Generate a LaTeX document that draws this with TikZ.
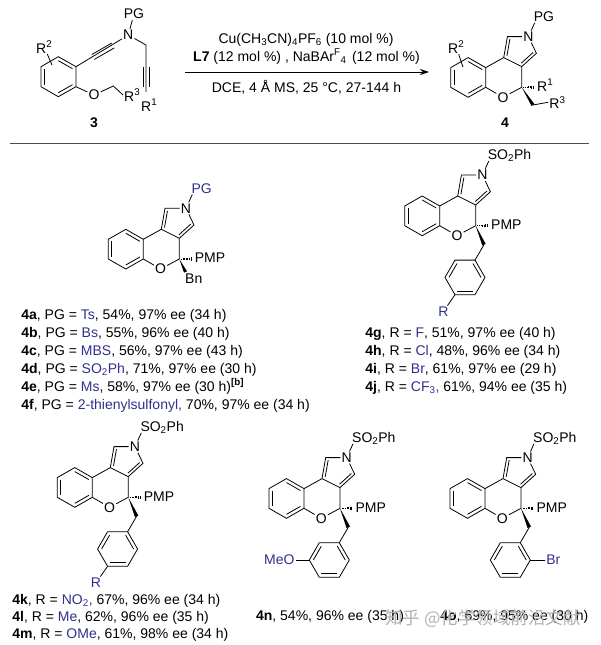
\documentclass[tikz,border=0pt]{standalone}
\usepackage{fontspec}
\usepackage{tikz}
\usetikzlibrary{calc,arrows.meta}
\setmainfont{Liberation Sans}
\newfontfamily\cjkfont{Noto Sans CJK SC}
\definecolor{pgblue}{RGB}{48,48,140}
\tikzset{
  atom/.style={anchor=base west,inner sep=.8pt},
  het/.style={anchor=center,inner sep=.8pt},
  listtext/.style={anchor=base west,inner sep=0pt},
  bold/.style={font=\fontsize{14}{16}\selectfont\bfseries}
}
\newcommand{\blue}[1]{\textcolor{pgblue}{#1}}
\newcommand{\dbl}[3]{\draw ($(#1)!.8!(#2)$) -- ($(#1)!.8!(#3)$);}
\newcommand{\hashbond}{\foreach \t in {2,3.6,...,13} {\draw[line width=.55pt] (\t,{-.14*\t}) -- (\t,{.14*\t});}}
% fused ring system, drawn around the quaternary carbon at (0,0)
\newcommand{\tricycle}[1]{
\coordinate (cq) at (0,0);
\coordinate (c3a) at (0,-20.7);
\coordinate (c9b) at (-18,-29.7);
\coordinate (c1) at (-14.3,-50.7);
\coordinate (c3) at (14.7,-34);
\coordinate (pgend) at (13,-64.5);
\coordinate (pc) at (-2,-38);
\node[het] (n) at (6.7,-50.7) {N};
\node[het] (o) at (-18.7,10) {O};
\node[atom] (pg) at (11,-66) {#1};
\coordinate (b1) at (-36,-19.7);
\coordinate (b2) at (-53.5,-29.7);
\coordinate (b3) at (-71,-19.7);
\coordinate (b4) at (-71,0);
\coordinate (b5) at (-53.5,10);
\coordinate (b6) at (-36,0);
\coordinate (bc) at (-53.5,-9.85);
\draw (b1) -- (b2) -- (b3) -- (b4) -- (b5) -- (b6) -- cycle;
\dbl{bc}{b1}{b2}
\dbl{bc}{b3}{b4}
\dbl{bc}{b5}{b6}
\draw (b1) -- (c9b) -- (c3a) -- (cq);
\draw (c9b) -- (c1) -- (n) -- (c3) -- (c3a);
\dbl{pc}{c9b}{c1}
\dbl{pc}{c3a}{c3}
\draw (n) -- (pgend);
\draw (b6) -- (o) -- (cq);
\hashbond
}
% benzyl arm, hanging from the wedge
\newcommand{\benzyl}{
\coordinate (ch2) at (8.3,19);
\coordinate (r1) at (-0.7,34.4);
\coordinate (r2) at (9.3,51.7);
\coordinate (r3) at (-0.7,69);
\coordinate (r4) at (-20.7,69);
\coordinate (r5) at (-30.7,51.7);
\coordinate (r6) at (-20.7,34.4);
\coordinate (rc) at (-10.7,51.7);
\fill (cq) -- (6.6,19.8) -- (10,18.2) -- cycle;
\draw (ch2) -- (r1);
\draw (r1) -- (r2) -- (r3) -- (r4) -- (r5) -- (r6) -- cycle;
\dbl{rc}{r1}{r2}
\dbl{rc}{r3}{r4}
\dbl{rc}{r5}{r6}
}
\begin{document}
\begin{tikzpicture}[x=1pt,y=-1pt,line width=.8pt,every node/.style={font=\fontsize{14}{16}\selectfont}]
\useasboundingbox (0,0) rectangle (600,645);

% substrate 3
\coordinate (s1) at (58.3,56.7);
\coordinate (s2) at (76,66.7);
\coordinate (s3) at (76,86.7);
\coordinate (s4) at (58.3,96.7);
\coordinate (s5) at (41,86.7);
\coordinate (s6) at (41,66.7);
\coordinate (sc) at (58.5,76.7);
\coordinate (ta) at (93,57);
\coordinate (tb) at (113,45.5);
\coordinate (sr) at (52,65);
\coordinate (s7) at (113.3,86);
\coordinate (s8) at (146,45);
\coordinate (s9) at (146,92);
\node[het] (sn) at (128.3,35) {N};
\node[het] (so) at (94,95) {O};
\node[het] (spg) at (134,14) {PG};
\node[atom] (sr2) at (35,53) {R\textsuperscript{2}};
\node[atom] (sr3) at (123,101) {R\textsuperscript{3}};
\node[atom] (sr1) at (140,111) {R\textsuperscript{1}};
\node[bold] (lab3) at (94,122.7) {3};
\draw (s1) -- (s2) -- (s3) -- (s4) -- (s5) -- (s6) -- cycle;
\dbl{sc}{s1}{s2}
\dbl{sc}{s4}{s3}
\dbl{sc}{s5}{s6}
\draw (sr) -- (sr2);
\draw (s2) -- (sn);
\draw ($(ta)+(-1.3,-2.4)$) -- ($(tb)+(-1.3,-2.4)$);
\draw ($(ta)+(1.3,2.4)$) -- ($(tb)+(1.3,2.4)$);
\draw (spg) -- (sn);
\draw (sn) -- (s8) -- (s9);
\draw (143,66.7) -- (143,87);
\draw (149,66.7) -- (149,87);
\draw (s3) -- (so) -- (s7) -- (sr3.west);

% conditions and arrow
\coordinate (arrowa) at (185,72);
\coordinate (arrowb) at (429,72);
\draw[-{Stealth[length=9pt,width=6pt]},line width=1pt] (arrowa) -- (arrowb);
\node[anchor=base] (cond1) at (306,43) {Cu(CH\textsubscript{3}CN)\textsubscript{4}PF\textsubscript{6} (10 mol \%)};
\node[anchor=base] (cond2) at (306.5,61) {\textbf{L7} (12 mol \%) , NaBAr\textsuperscript{F}\textsubscript{4}\kern.4em(12 mol \%)};
\node[anchor=base] (cond3) at (306.5,92) {DCE, 4 Å MS, 25 °C, 27-144 h};

% product 4
\begin{scope}[shift={(521.7,87.3)}]
\tricycle{PG}
\node[atom] (p1) at (14.3,3.7) {R\textsuperscript{1}};
\node[atom] (p3) at (26.5,21) {R\textsuperscript{3}};
\coordinate (pch2) at (11.3,17.7);
\fill (cq) -- (9.8,18.6) -- (12.8,16.8) -- cycle;
\draw (pch2) -- (p3.west);
\end{scope}
\coordinate (pr) at (463,67);
\node[atom] (p2) at (447,53) {R\textsuperscript{2}};
\draw (pr) -- (p2);
\node[bold] (lab4) at (505,122.7) {4};

\coordinate (sepa) at (10,143.3);
\coordinate (sepb) at (589,143.3);
\draw[line width=1.2pt,black!70] (sepa) -- (sepb);

% 4a-f
\begin{scope}[shift={(179.3,259)}]
\tricycle{\blue{PG}}
\node[atom] (apmp) at (14.3,3.7) {PMP};
\node[atom] (abn) at (4.7,24.3) {Bn};
\fill (cq) -- (4.7,13.7) -- (7.7,12.3) -- cycle;
\end{scope}
\node[listtext] (t4a) at (21,319) {\textbf{4a}, PG = \blue{Ts}, 54\%, 97\% ee (34 h)};
\node[listtext] (t4b) at (21,337) {\textbf{4b}, PG = \blue{Bs}, 55\%, 96\% ee (40 h)};
\node[listtext] (t4c) at (21,355) {\textbf{4c}, PG = \blue{MBS}, 56\%, 97\% ee (43 h)};
\node[listtext] (t4d) at (21,373) {\textbf{4d}, PG = \blue{SO\textsubscript{2}Ph}, 71\%, 97\% ee (30 h)};
\node[listtext] (t4e) at (21,391) {\textbf{4e}, PG = \blue{Ms}, 58\%, 97\% ee (30 h)\textsuperscript{\textbf{[b]}}};
\node[listtext] (t4f) at (21,409) {\textbf{4f}, PG = \blue{2-thienylsulfonyl,} 70\%, 97\% ee (34 h)};

% 4g-j
\begin{scope}[shift={(475.7,225.7)}]
\tricycle{SO\textsubscript{2}Ph}
\node[atom] (gpmp) at (14.3,3.7) {PMP};
\benzyl
\node[het] (gr) at (-32.4,86) {\blue{R}};
\draw (r4) -- (gr);
\end{scope}
\node[listtext] (t4g) at (365,337) {\textbf{4g}, R = \blue{F}, 51\%, 97\% ee (40 h)};
\node[listtext] (t4h) at (365,355) {\textbf{4h}, R = \blue{Cl}, 48\%, 96\% ee (34 h)};
\node[listtext] (t4i) at (365,373) {\textbf{4i}, R = \blue{Br}, 61\%, 97\% ee (29 h)};
\node[listtext] (t4j) at (365,391) {\textbf{4j}, R = \blue{CF\textsubscript{3},} 61\%, 94\% ee (35 h)};

% 4k-m
\begin{scope}[shift={(128.3,497.3)}]
\tricycle{SO\textsubscript{2}Ph}
\node[atom] (kpmp) at (14.3,3.7) {PMP};
\benzyl
\node[het] (kr) at (-32.3,85.4) {\blue{R}};
\draw (r4) -- (kr);
\end{scope}
\node[listtext] (t4k) at (12,604) {\textbf{4k}, R = \blue{NO\textsubscript{2},} 67\%, 96\% ee (34 h)};
\node[listtext] (t4l) at (12,621) {\textbf{4l}, R = \blue{Me}, 62\%, 96\% ee (35 h)};
\node[listtext] (t4m) at (12,638) {\textbf{4m}, R = \blue{OMe}, 61\%, 98\% ee (34 h)};

% 4n
\begin{scope}[shift={(340,508.3)}]
\tricycle{SO\textsubscript{2}Ph}
\node[atom] (npmp) at (14.3,3.7) {PMP};
\benzyl
\node[het] (nome) at (-60.7,51.7) {\blue{MeO}};
\draw (r5) -- (nome);
\end{scope}
\node[listtext] (t4n) at (255.7,620.7) {\textbf{4n}, 54\%, 96\% ee (35 h)};

% 4o
\begin{scope}[shift={(521,508.3)}]
\tricycle{SO\textsubscript{2}Ph}
\node[atom] (opmp) at (14.3,3.7) {PMP};
\benzyl
\node[het] (obr) at (32.3,51.7) {\blue{Br}};
\draw (r2) -- (obr);
\end{scope}
\node[listtext] (t4o) at (440,620.7) {\textbf{4o}, 69\%, 95\% ee (30 h)};

\node[anchor=base west,inner sep=0pt,text=black!30,font=\fontsize{17.5}{19}\cjkfont] (mark) at (385,624) {知乎 @化学领域前沿文献};

\end{tikzpicture}
\end{document}
